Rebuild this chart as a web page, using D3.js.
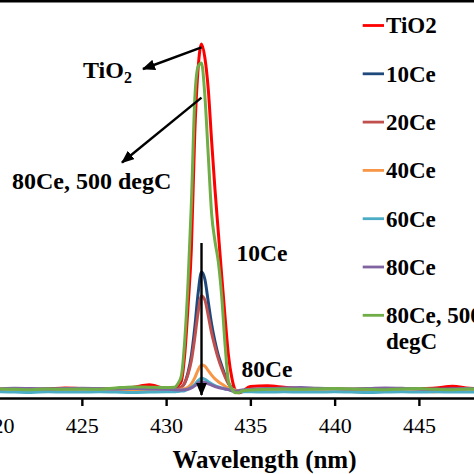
<!DOCTYPE html>
<html><head><meta charset="utf-8">
<script src="https://cdn.jsdelivr.net/npm/d3@7"></script>
<style>html,body{margin:0;padding:0;background:#fff;}svg{display:block;}</style>
</head><body>
<svg id="chart" width="474" height="474"></svg>
<script>
// ---------- data ----------
const wavelength = [419,420,421,422,423,424,425,426,427,428,429,430,
  430.5,430.7,430.9,431.1,431.3,431.5,431.7,431.9,432.1,432.3,432.5,432.7,432.9,433.1,433.3,433.5,433.7,433.9,434.1,434.3,434.5,
  435,436,437,438,439,440,441,442,443,444,445,446,447,448,449];

const tio2 = [0.3,0.2,0.4,0.2,0.3,0.6,0.4,0.3,0.4,0.7,1.5,0.4,
  0.6,1.2,2.5,10,24,41,74,93,100,96,87,72,58,45.5,33,21,10,3.5,0,-0.8,-0.5,
  1.0,1.2,0.8,0.4,0.3,0.3,0.2,0.3,0.2,0.3,0.4,0.6,1.1,0.5,0.4];
const ce10 = [0.1,0.0,0.1,0.2,0.3,0.1,-0.1,0.1,0.2,0.1,0.2,0.1,
  0.0,0.3,0.8,2,5,10,18,28,34.1,32,25.5,19,14,10,7,4.2,2,0.6,0,-0.5,-0.5,
  0.0,0.2,0.3,0.2,0.1,0.2,0.1,0.3,0.2,0.2,0.1,0.2,0.3,0.2,0.2];
const ce20 = [0.2,0.3,0.1,0.0,0.2,0.4,0.3,0.2,0.1,0.3,0.4,0.2,
  0.0,0.3,0.8,2,4.5,8.5,15,22.5,27.2,26,21.5,16.5,12.5,9,6.2,3.8,1.8,0.5,0,-0.4,-0.4,
  0.1,0.3,0.2,0.1,0.2,0.0,0.1,0.2,0.1,0.0,0.1,0.2,0.1,0.2,0.1];
const ce40 = [-0.2,-0.3,-0.1,-0.2,0.0,-0.2,-0.3,-0.2,-0.1,-0.2,-0.1,0.0,
  0.0,0.0,0.2,0.4,0.8,1.8,3.5,5.8,7.2,6.9,5.6,4.3,3.2,2.4,1.7,1.1,0.6,0.2,0.0,-0.3,-0.3,
  -0.2,-0.1,-0.2,-0.3,-0.1,-0.2,-0.4,-0.5,-0.4,-0.3,-0.2,-0.5,-0.3,-0.2,-0.3];
const ce60 = [-0.6,-0.5,-0.6,-0.7,-0.5,-0.6,-0.6,-0.5,-0.6,-0.7,-0.6,-0.5,
  -0.5,-0.4,-0.3,-0.2,0.3,0.8,1.6,2.7,3.4,3.1,2.4,1.8,1.3,0.9,0.6,0.3,0.1,-0.2,-0.4,-0.5,-0.5,
  -0.5,-0.6,-0.5,-0.6,-0.6,-0.5,-0.6,-0.7,-0.6,-0.5,-0.6,-0.5,-0.6,-0.6,-0.5];
const ce80 = [0.4,0.3,0.5,0.4,0.3,0.4,0.5,0.4,0.3,0.4,0.3,0.2,
  0.1,0.0,0.0,0.1,0.2,0.6,1.2,2.0,2.4,2.2,1.8,1.4,1.0,0.7,0.5,0.3,0.1,-0.2,-0.3,-0.2,0.0,
  0.2,0.4,0.6,0.7,0.5,0.4,0.3,0.4,0.6,0.5,0.3,0.2,0.3,0.4,0.3];
const ce80_500 = [0.2,0.3,0.2,0.1,0.3,0.2,0.3,0.2,0.6,0.9,0.8,0.7,
  0.8,1.8,4,14,31,54,84,93.5,94.5,85,68,51,43,37,27,13,2.5,0.3,-0.8,-0.8,-0.3,
  0.0,0.2,0.3,0.2,0.3,0.4,0.3,0.2,0.1,0.3,0.4,0.2,0.1,0.3,0.2];

const seriesNames = ["TiO2","10Ce","20Ce","40Ce","60Ce","80Ce","80Ce, 500 degC"];
const seriesValues = [tio2, ce10, ce20, ce40, ce60, ce80, ce80_500];
const seriesColors = ["#ff0000","#1f497d","#c0504d","#f79646","#4bacc6","#8064a2","#70ad47"];
const xTicks = [420,425,430,435,440,445];
const xTitle = "Wavelength (nm)";

// ---------- scales ----------
const svg = d3.select("#chart");
const x = d3.scaleLinear().domain([420, 448.3]).range([-2.4, 474.5]);
const y = d3.scaleLinear().domain([0, 100]).range([390, 44]);
const serif = "'Liberation Serif','Times New Roman',serif";

// top frame line
svg.append("line").attr("x1",0).attr("x2",474).attr("y1",1.2).attr("y2",1.2)
  .attr("stroke","#000").attr("stroke-width",2.6);

// x axis
const axisG = svg.append("g").attr("transform","translate(0,398)")
  .call(d3.axisBottom(x).tickValues(xTicks).tickFormat(d3.format("d")).tickSizeInner(8).tickSizeOuter(0).tickPadding(11));
axisG.select(".domain").attr("stroke","#000").attr("stroke-width",2.6);
axisG.selectAll(".tick line").attr("stroke","#000").attr("stroke-width",2.4);
axisG.selectAll(".tick text").attr("font-family",serif).attr("font-size",22).attr("fill","#000");

svg.append("text").attr("x",264.5).attr("y",468).attr("text-anchor","middle")
  .attr("font-family",serif).attr("font-weight","bold").attr("font-size",25).text(xTitle);

// lines
const line = d3.line().x((d,i)=>x(wavelength[i])).y(d=>y(d)).curve(d3.curveMonotoneX);
seriesValues.forEach((vals,k)=>{
  svg.append("path").datum(vals).attr("d",line).attr("fill","none")
    .attr("stroke",seriesColors[k]).attr("stroke-width",3).attr("stroke-linejoin","round");
});

// arrow marker
svg.append("defs").append("marker").attr("id","ah").attr("viewBox","0 0 12 10")
  .attr("refX",11).attr("refY",5).attr("markerWidth",13).attr("markerHeight",11)
  .attr("markerUnits","userSpaceOnUse").attr("orient","auto")
  .append("path").attr("d","M0,0 L12,5 L0,10 Z").attr("fill","#000");

function arrow(x1,y1,x2,y2){
  svg.append("line").attr("x1",x1).attr("y1",y1).attr("x2",x2).attr("y2",y2)
    .attr("stroke","#000").attr("stroke-width",2.4).attr("marker-end","url(#ah)");
}
const px = x(432.1);
arrow(px, y(99), 143, 69);
arrow(px, y(84.5), 122, 162.5);
arrow(px, 243, px, 395);

// annotations
const t1 = svg.append("text").attr("x",83).attr("y",78).attr("font-family",serif)
  .attr("font-weight","bold").attr("font-size",24);
t1.append("tspan").text("TiO");
t1.append("tspan").attr("font-size",16).attr("dy",5).text("2");
svg.append("text").attr("x",12).attr("y",188.5).attr("font-family",serif)
  .attr("font-weight","bold").attr("font-size",24).text("80Ce, 500 degC");
svg.append("text").attr("x",236.5).attr("y",261).attr("font-family",serif)
  .attr("font-weight","bold").attr("font-size",23.5).text("10Ce");
svg.append("text").attr("x",241.5).attr("y",377).attr("font-family",serif)
  .attr("font-weight","bold").attr("font-size",23.5).text("80Ce");

// legend
const legRows = [33.3, 81.6, 129.9, 178.2, 226.5, 274.8, 323.1];
seriesNames.forEach((n,k)=>{
  const by = legRows[k];
  svg.append("line").attr("x1",362.7).attr("x2",384).attr("y1",by-7.8).attr("y2",by-7.8)
    .attr("stroke",seriesColors[k]).attr("stroke-width",2.8);
  const t = svg.append("text").attr("x",386).attr("y",by).attr("font-family",serif)
    .attr("font-weight","bold").attr("font-size",23).attr("fill","#000");
  if (n === "80Ce, 500 degC") {
    t.append("tspan").attr("x",386).text("80Ce, 500");
    t.append("tspan").attr("x",386).attr("dy",26).text("degC");
  } else t.text(n);
});
</script>
</body></html>
